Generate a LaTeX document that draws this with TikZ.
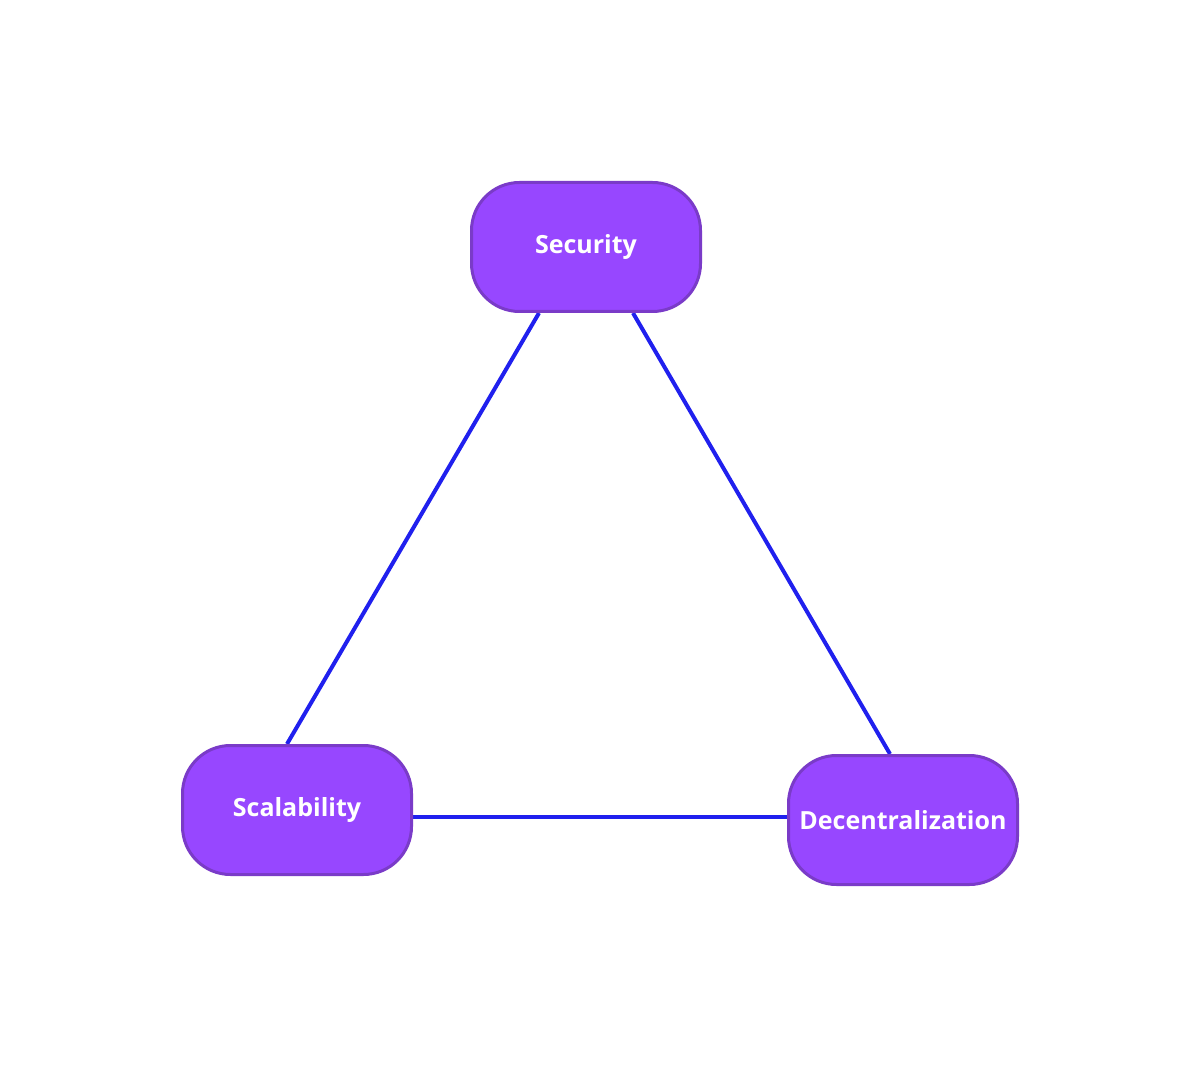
\documentclass[tikz,border=0pt]{standalone}
\usepackage{fontspec}
\setmainfont{Open Sans}
\usetikzlibrary{calc}
\definecolor{boxfill}{HTML}{9747FF}
\definecolor{boxline}{HTML}{7A3BC8}
\definecolor{edge}{HTML}{2020EE}
\begin{document}
\begin{tikzpicture}[x=1pt,y=-1pt,
  box/.style={draw=boxline,line width=3pt,fill=boxfill,rounded corners=48pt,minimum width=229pt,minimum height=129pt,inner sep=0pt,text=white,font=\bfseries\fontsize{25}{30}\selectfont},
  link/.style={draw=edge,line width=4pt}]
\useasboundingbox (0,0) rectangle (1200,1067);
\draw[link] (539,313) coordinate (a1) -- (287,744) coordinate (a2);
\draw[link] (633,313) -- (890,754);
\draw[link] (413,817) -- (787,817);
\node[box] (sec) at (586,247) {Security};
\node[box] (sca) at (297,810) {Scalability};
\node[box] (dec) at (903,820) {Decentralization};
\end{tikzpicture}
\end{document}
